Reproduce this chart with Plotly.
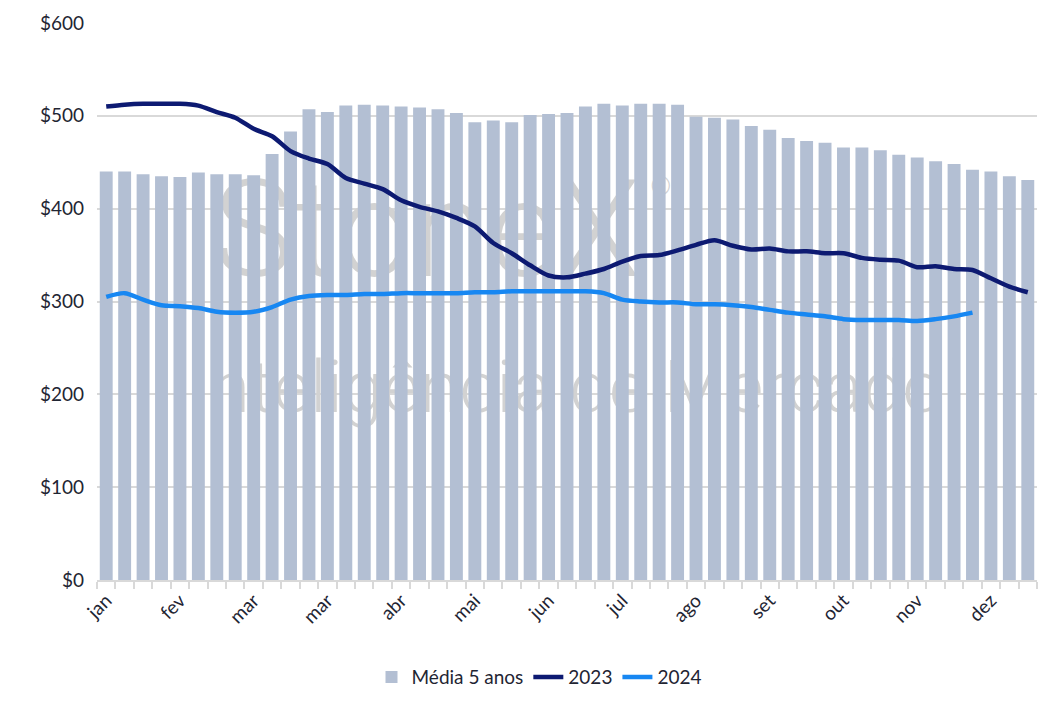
import plotly.graph_objects as go

weeks = list(range(51))
tick_idx = [0, 4, 8, 12, 16, 20, 24, 28, 32, 36, 40, 44, 48]
tick_labels = ["jan", "fev", "mar", "mar", "abr", "mai", "jun", "jul", "ago", "set", "out", "nov", "dez"]

media_5_anos = [440, 440, 437, 435, 434, 439, 437, 437, 436, 459, 483, 507, 504, 511, 512, 511,
                510, 509, 507, 503, 493, 495, 493, 501, 502, 503, 510, 513, 511, 513, 513, 512,
                499, 498, 496, 489, 485, 476, 473, 471, 466, 466, 463, 458, 455, 451, 448, 442,
                440, 435, 431]

s2023 = [510, 512, 513, 513, 513, 511, 504, 498, 486, 478, 462, 454, 448, 433, 427, 421,
         409, 402, 397, 390, 381, 363, 352, 339, 328, 326, 330, 335, 343, 349, 350, 355,
         361, 366, 360, 356, 357, 354, 354, 352, 352, 347, 345, 344, 337, 338, 335, 334,
         325, 316, 310]

s2024 = [305, 309, 302, 296, 295, 293, 289, 288, 289, 294, 302, 306, 307, 307, 308, 308,
         309, 309, 309, 309, 310, 310, 311, 311, 311, 311, 311, 309, 302, 300, 299, 299,
         297, 297, 296, 294, 291, 288, 286, 284, 281, 280, 280, 280, 279, 281, 284, 288]

FONT = "Lato"
WM_FONT = "Roboto"
DARK = "#1f2533"
WM_COLOR = "#d2d2d2"

fig = go.Figure()

# watermark in base subplot (drawn beneath bars)
fig.add_trace(go.Scatter(x=[17.4], y=[364], mode="text", text=["StoneX"],
                         textfont=dict(family=WM_FONT, size=136, color=WM_COLOR, weight=300),
                         showlegend=False, hoverinfo="skip", xaxis="x", yaxis="y"))
fig.add_trace(go.Scatter(x=[30.1], y=[422], mode="text", text=["®"],
                         textfont=dict(family=WM_FONT, size=26, color=WM_COLOR, weight=300),
                         showlegend=False, hoverinfo="skip", xaxis="x", yaxis="y"))
fig.add_trace(go.Scatter(x=[25.0], y=[200], mode="text", text=["Inteligência de Mercado"],
                         textfont=dict(family=WM_FONT, size=72, color=WM_COLOR, weight=300),
                         showlegend=False, hoverinfo="skip", xaxis="x", yaxis="y"))

fig.add_trace(go.Bar(x=weeks, y=media_5_anos, name="Média 5 anos", marker_color="#b3bfd3",
                     marker_line_width=0, xaxis="x2", yaxis="y2"))
fig.add_trace(go.Scatter(x=weeks[:len(s2023)], y=s2023, name="2023", mode="lines",
                         line=dict(color="#0d1a72", width=4.5, shape="spline", smoothing=0.8),
                         xaxis="x2", yaxis="y2"))
fig.add_trace(go.Scatter(x=weeks[:len(s2024)], y=s2024, name="2024", mode="lines",
                         line=dict(color="#1787f2", width=4.5, shape="spline", smoothing=0.8),
                         xaxis="x2", yaxis="y2"))

xr = [-0.5, 50.5]
yr = [0, 600]

fig.update_layout(
    width=1063, height=708,
    margin=dict(l=89, r=34, t=15, b=136),
    paper_bgcolor="white", plot_bgcolor="white",
    bargap=0.3,
    font=dict(family=FONT, size=17, color=DARK),
    xaxis=dict(range=xr, tickmode="array", tickvals=tick_idx, ticktext=tick_labels,
               tickangle=-45, showgrid=False, zeroline=False, showline=True,
               linecolor="#d9d9d9", linewidth=2, ticks="", automargin=False,
               tickfont=dict(family=FONT, size=19, color=DARK),
               minor=dict(tickmode="linear", tick0=-0.5, dtick=1, ticks="outside",
                          ticklen=7, tickcolor="#d9d9d9", tickwidth=1.5, showgrid=False)),
    yaxis=dict(range=yr, dtick=100, tickprefix="$", showgrid=True, gridcolor="#d9d9d9",
               gridwidth=1.5, zeroline=False, showline=False, ticks="", automargin=False,
               ticklabelstandoff=12,
               tickfont=dict(family=FONT, size=19, color=DARK)),
    xaxis2=dict(range=xr, overlaying="x", visible=False),
    yaxis2=dict(range=yr, overlaying="y", visible=False),
    legend=dict(orientation="h", xref="container", x=0.5, xanchor="center",
                yref="container", y=0.055, yanchor="middle",
                font=dict(family=FONT, size=19, color=DARK), traceorder="normal"),
    showlegend=True,
)

fig.write_html("out.html")
